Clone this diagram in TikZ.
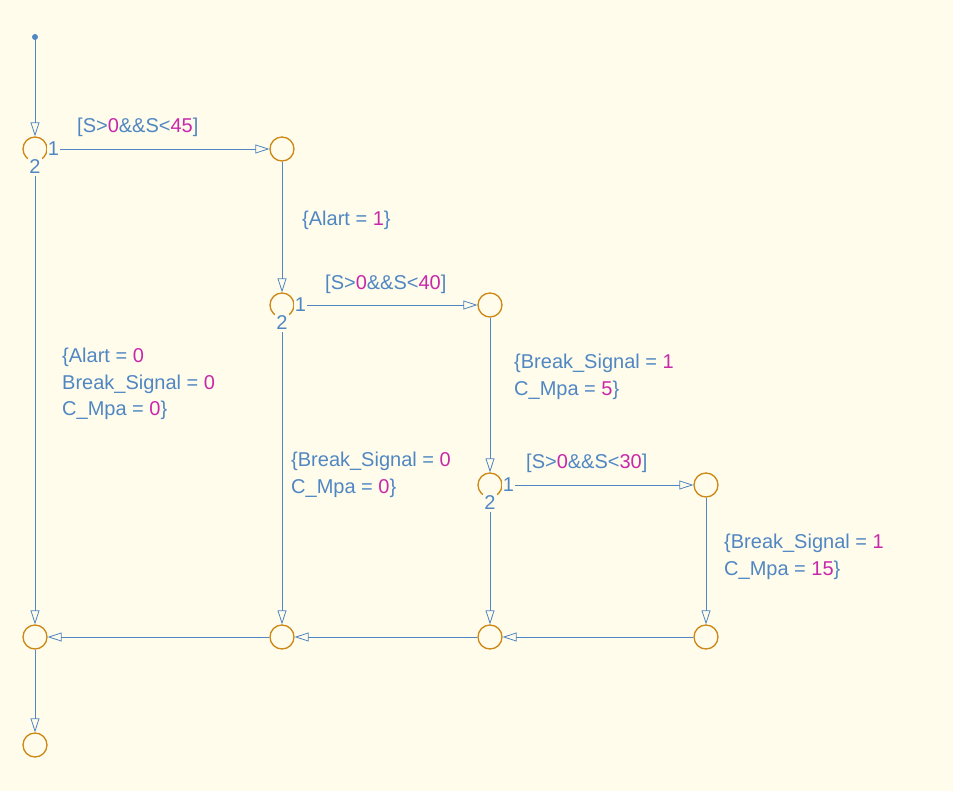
\documentclass[tikz,border=0pt]{standalone}
\usepackage{fontspec}
\setmainfont{Liberation Sans}
\usetikzlibrary{arrows.meta}
\definecolor{bgColor}{RGB}{255,252,235}
\definecolor{junColor}{RGB}{205,135,20}
\definecolor{lnColor}{RGB}{80,135,195}
\definecolor{numColor}{RGB}{200,40,170}
\newcommand{\nm}[1]{\textcolor{numColor}{#1}}
\tikzset{
  junc/.style={circle,draw=junColor,line width=1.3pt,minimum size=24pt,inner sep=0pt},
  flow/.style={draw=lnColor,line width=0.8pt,-{Triangle[open,length=14pt,width=9pt]}},
  lbl/.style={text=lnColor,anchor=west,inner sep=0pt,font=\fontsize{20}{26.5}\selectfont,align=left},
  ord/.style={text=lnColor,fill=bgColor,inner sep=1pt,font=\fontsize{20}{22}\selectfont}
}
\begin{document}
\begin{tikzpicture}[x=1pt,y=-1pt]
\path[use as bounding box,fill=bgColor] (0,0) rectangle (953,791);

% junctions
\fill[lnColor] (35,37) circle (3);
\coordinate (st) at (35,37);
\node[junc] (j1) at (35,149) {};
\node[junc] (j2) at (282,149) {};
\node[junc] (j3) at (282,305) {};
\node[junc] (j4) at (490,305) {};
\node[junc] (j5) at (490,485) {};
\node[junc] (j6) at (706,485) {};
\node[junc] (m1) at (35,637) {};
\node[junc] (m2) at (282,637) {};
\node[junc] (m3) at (490,637) {};
\node[junc] (m4) at (706,637) {};
\node[junc] (ed) at (35,745) {};

% transitions
\draw[flow] (st) -- (j1);
\draw[flow] (j1) -- (j2);
\draw[flow] (j2) -- (j3);
\draw[flow] (j3) -- (j4);
\draw[flow] (j4) -- (j5);
\draw[flow] (j5) -- (j6);
\draw[flow] (j6) -- (m4);
\draw[flow] (j5) -- (m3);
\draw[flow] (j3) -- (m2);
\draw[flow] (j1) -- (m1);
\draw[flow] (m4) -- (m3);
\draw[flow] (m3) -- (m2);
\draw[flow] (m2) -- (m1);
\draw[flow] (m1) -- (ed);

% execution order
\foreach \j in {j1,j3,j5}{
  \node[ord,anchor=west] at ([xshift=-1pt]\j.east) {1};
  \node[ord,anchor=north,inner ysep=2pt] at ([yshift=4pt]\j.south) {2};
}

% labels
\node[lbl] (c1) at (77,127) {[S>\nm{0}\&\&S<\nm{45}]};
\node[lbl] (a1) at (302,220) {\{Alart = \nm{1}\}};
\node[lbl] (c2) at (325,284) {[S>\nm{0}\&\&S<\nm{40}]};
\node[lbl] (a2) at (514,377) {\{Break\_Signal = \nm{1}\\C\_Mpa = \nm{5}\}};
\node[lbl] (c3) at (526,463) {[S>\nm{0}\&\&S<\nm{30}]};
\node[lbl] (a3) at (724,557) {\{Break\_Signal = \nm{1}\\C\_Mpa = \nm{15}\}};
\node[lbl] (a4) at (62,384) {\{Alart = \nm{0}\\Break\_Signal = \nm{0}\\C\_Mpa = \nm{0}\}};
\node[lbl] (a5) at (291,475) {\{Break\_Signal = \nm{0}\\C\_Mpa = \nm{0}\}};
\end{tikzpicture}
\end{document}
